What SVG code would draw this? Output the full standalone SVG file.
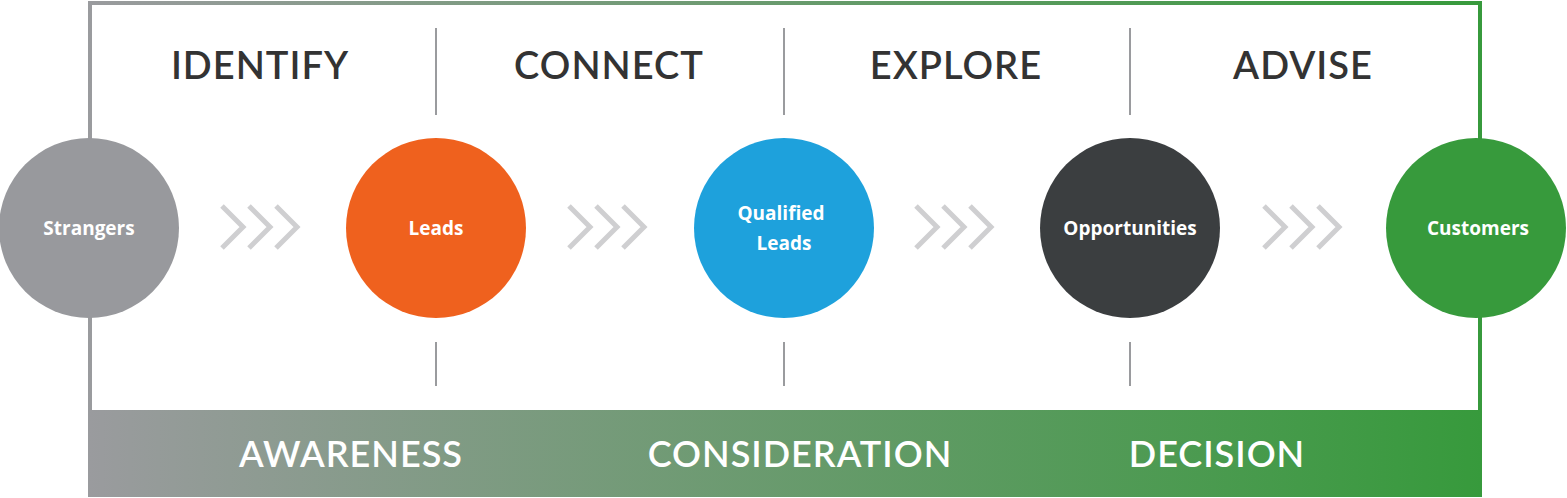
<svg xmlns="http://www.w3.org/2000/svg" width="1567" height="498" viewBox="0 0 1567 498">
<defs>
<linearGradient id="g" x1="88" y1="0" x2="1482" y2="0" gradientUnits="userSpaceOnUse">
<stop offset="0" stop-color="#9a9b9e"/><stop offset="1" stop-color="#379a3c"/>
</linearGradient>
<g id="chev"><path d="M222 206l21 21-21 21M249 206l21 21-21 21M276 206l21 21-21 21" fill="none" stroke="#cfcfd1" stroke-width="5"/></g>
</defs>
<style>
.h{font-family:Lato,"Open Sans",sans-serif;font-size:38px;font-weight:600;fill:#333;text-anchor:middle;letter-spacing:1px}
.b{font-family:Lato,"Open Sans",sans-serif;font-size:36px;font-weight:600;fill:#fff;text-anchor:middle;letter-spacing:1px}
.n{font-family:"Open Sans",Lato,sans-serif;font-size:19px;font-weight:700;fill:#fff;text-anchor:middle}
.t{stroke:#9a9b9e;stroke-width:2}
</style>
<g id="frame">
<path d="M88 1H1482V497H88Z" fill="url(#g)"/>
<rect x="92" y="5" width="1386" height="405" fill="#fff"/>
</g>
<g id="connectors">
<path class="t" d="M436 28V115M784 28V115M1130 28V115M436 342V386M784 342V386M1130 342V386"/>
<use href="#chev"/>
<use href="#chev" x="347"/>
<use href="#chev" x="694"/>
<use href="#chev" x="1042"/>
</g>
<g id="headings">
<text class="h" x="260" y="79">IDENTIFY</text>
<text class="h" x="609" y="79">CONNECT</text>
<text class="h" x="956" y="79">EXPLORE</text>
<text class="h" x="1303" y="79">ADVISE</text>
</g>
<g id="stages">
<text class="b" x="351" y="467">AWARENESS</text>
<text class="b" x="800" y="467">CONSIDERATION</text>
<text class="b" x="1217" y="467">DECISION</text>
</g>
<g id="strangers"><circle cx="89" cy="228" r="90" fill="#98999d"/><text class="n" x="89" y="235">Strangers</text></g>
<g id="leads"><circle cx="436" cy="228" r="90" fill="#ef611e"/><text class="n" x="436" y="235">Leads</text></g>
<g id="qualified"><circle cx="784" cy="228" r="90" fill="#1ea1dc"/><text class="n" x="781" y="220">Qualified</text><text class="n" x="784" y="250">Leads</text></g>
<g id="opportunities"><circle cx="1130" cy="228" r="90" fill="#3b3e40"/><text class="n" x="1130" y="235">Opportunities</text></g>
<g id="customers"><circle cx="1476" cy="228" r="90" fill="#379a3c"/><text class="n" x="1478" y="235">Customers</text></g>
</svg>
